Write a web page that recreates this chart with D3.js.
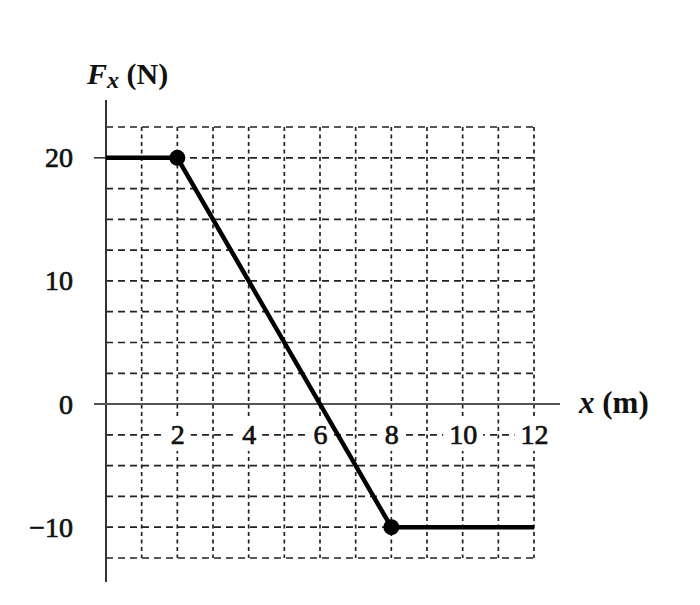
<!DOCTYPE html>
<html>
<head>
<meta charset="utf-8">
<script src="https://cdn.jsdelivr.net/npm/d3@7"></script>
<style>
  html, body { margin: 0; padding: 0; background: #fff; }
  svg { display: block; }
  text { font-family: "Liberation Serif", "Times New Roman", serif; fill: #111; }
</style>
</head>
<body>
<script>
// ---- data ----
const xPoints = [0, 2, 8, 12];
const forceValues = [20, 20, -10, -10];
const dotX = [2, 8];
const dotF = [20, -10];
const xTickLabels = [2, 4, 6, 8, 10, 12];
const yTickLabels = [20, 10, 0, -10];
const gridX = [1, 2, 3, 4, 5, 6, 7, 8, 9, 10, 11, 12];
const gridY = [-12.5, -10, -7.5, -5, -2.5, 2.5, 5, 7.5, 10, 12.5, 15, 17.5, 20, 22.5];

const W = 700, H = 605;
const svg = d3.select("body").append("svg").attr("width", W).attr("height", H);

const x = d3.scaleLinear().domain([0, 12]).range([106, 534]);
const y = d3.scaleLinear().domain([-12.5, 22.5]).range([558, 127]);

// grid
const grid = svg.append("g");
grid.selectAll("line.h").data(gridY).join("line")
  .attr("x1", x(0)).attr("x2", x(12))
  .attr("y1", d => y(d)).attr("y2", d => y(d))
  .attr("stroke", "#222").attr("stroke-width", 1.7)
  .attr("stroke-dasharray", "7,5");
grid.selectAll("line.v").data(gridX).join("line")
  .attr("x1", d => x(d)).attr("x2", d => x(d))
  .attr("y1", y(22.5)).attr("y2", y(-12.5))
  .attr("stroke", "#222").attr("stroke-width", 1.7)
  .attr("stroke-dasharray", "4,3.5");

const labelStyle = sel => sel
  .style("font-family", '"Liberation Serif", serif')
  .style("font-size", "28px")
  .attr("fill", "#111")
  .attr("stroke", "#111")
  .attr("stroke-width", 0.7);

// x tick labels (with white backgrounds)
const xAxis = svg.append("g")
  .attr("transform", `translate(0,${y(0)})`)
  .call(d3.axisBottom(x).tickValues(xTickLabels).tickSize(0).tickPadding(20).tickFormat(d3.format("d")));
xAxis.select(".domain").remove();
xAxis.selectAll("text").call(labelStyle);
xAxis.selectAll(".tick").each(function() {
  const t = d3.select(this).select("text");
  const bb = t.node().getBBox();
  d3.select(this).insert("rect", "text")
    .attr("x", bb.x - 6).attr("y", bb.y - 1)
    .attr("width", bb.width + 12).attr("height", bb.height + 2)
    .attr("fill", "#fff");
});

// y tick labels
const yAxis = svg.append("g")
  .attr("transform", `translate(${x(0)},0)`)
  .call(d3.axisLeft(y).tickValues(yTickLabels).tickSize(0).tickPadding(33).tickFormat(d3.format("d")));
yAxis.select(".domain").remove();
yAxis.selectAll("text").call(labelStyle);

// axes lines
svg.append("line")
  .attr("x1", x(0)).attr("x2", x(0))
  .attr("y1", 100).attr("y2", 582)
  .attr("stroke", "#333").attr("stroke-width", 2);
svg.append("line")
  .attr("x1", x(0) - 12).attr("x2", 560)
  .attr("y1", y(0)).attr("y2", y(0))
  .attr("stroke", "#555").attr("stroke-width", 2);
// small tick at 20
svg.append("line")
  .attr("x1", x(0) - 12).attr("x2", x(0))
  .attr("y1", y(20)).attr("y2", y(20))
  .attr("stroke", "#333").attr("stroke-width", 1.6);

// data line
const line = d3.line().x((d, i) => x(xPoints[i])).y((d, i) => y(forceValues[i]));
svg.append("path")
  .datum(xPoints)
  .attr("d", line)
  .attr("fill", "none")
  .attr("stroke", "#000")
  .attr("stroke-width", 4.5)
  .attr("stroke-linejoin", "round");

svg.selectAll("circle.dot").data(dotX).join("circle")
  .attr("cx", d => x(d))
  .attr("cy", (d, i) => y(dotF[i]))
  .attr("r", 8)
  .attr("fill", "#000");

// axis titles
const fTitle = svg.append("text")
  .attr("x", 87).attr("y", 84)
  .style("font-size", "30px");
fTitle.append("tspan").text("F").attr("font-weight", "bold").attr("font-style", "italic");
fTitle.append("tspan").text("x").attr("font-weight", "bold").attr("font-style", "italic")
  .attr("dy", 4).style("font-size", "24px");
fTitle.append("tspan").text(" (N)").attr("font-weight", "bold").attr("dy", -4);

const xTitle = svg.append("text")
  .attr("x", 579).attr("y", 413)
  .style("font-size", "31px");
xTitle.append("tspan").text("x").attr("font-weight", "bold").attr("font-style", "italic");
xTitle.append("tspan").text(" (m)").attr("font-weight", "bold");
</script>
</body>
</html>
